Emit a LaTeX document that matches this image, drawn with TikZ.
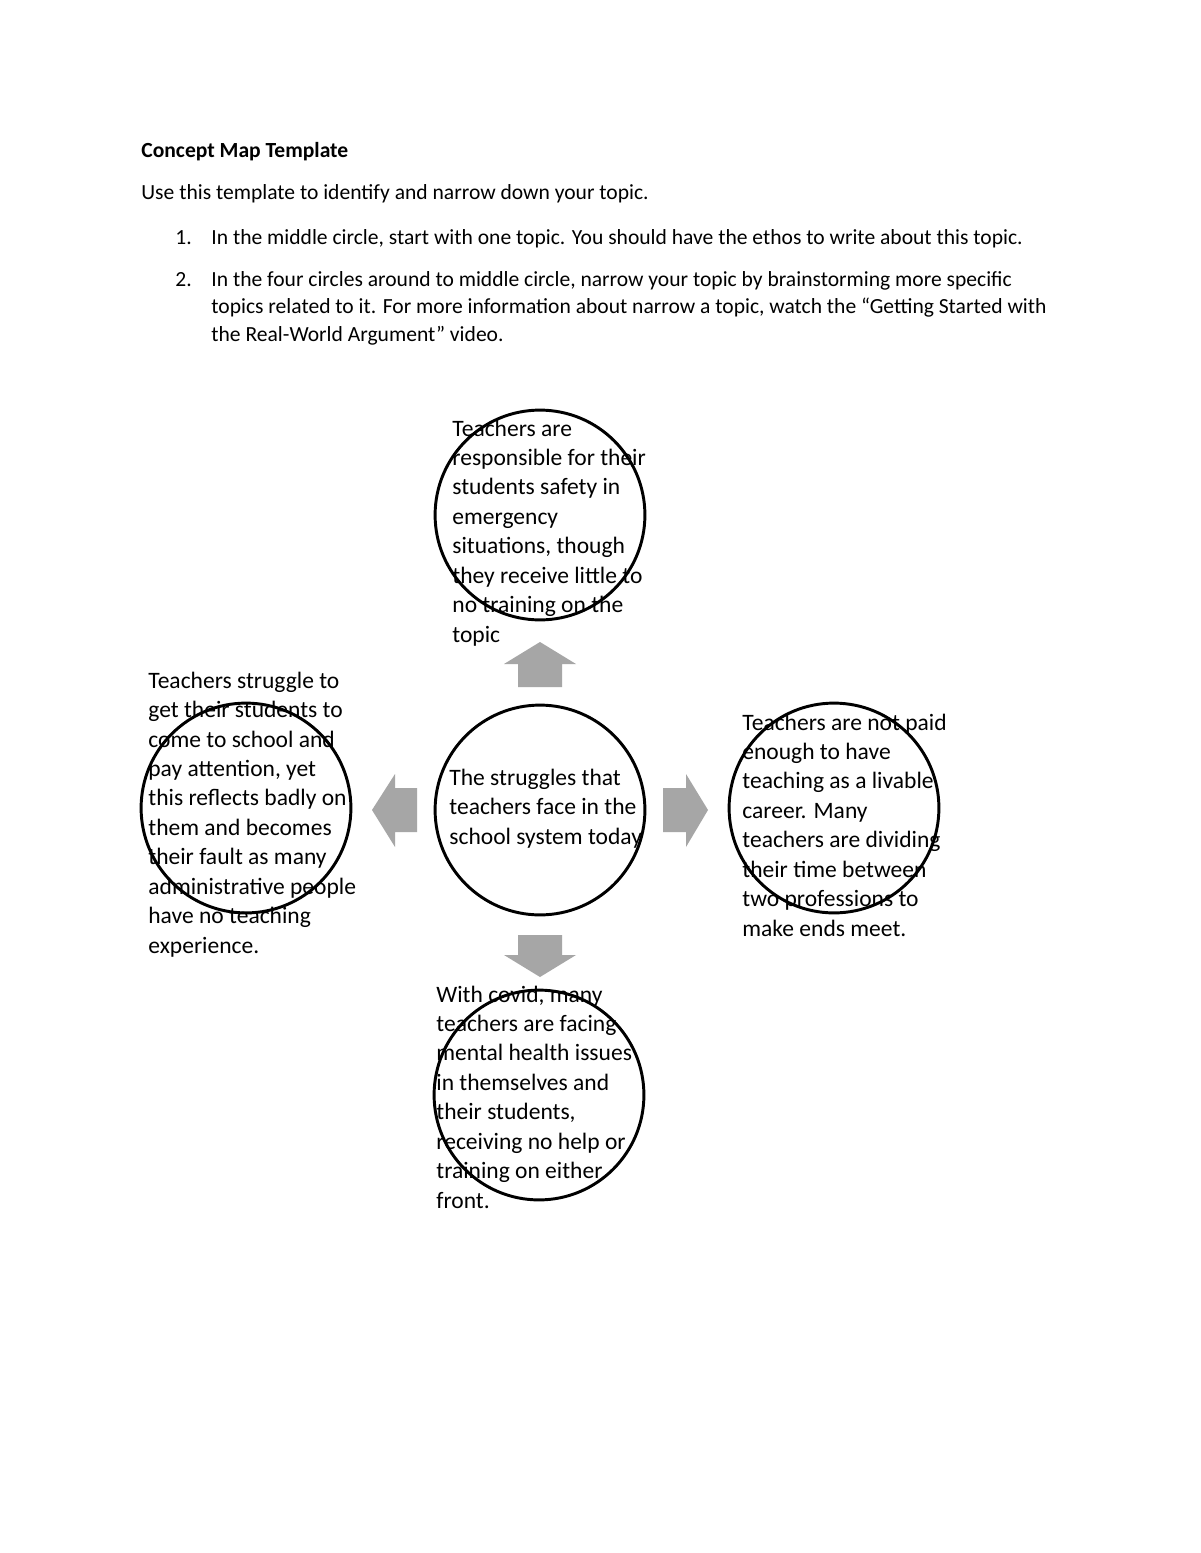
\documentclass[tikz,border=0pt]{standalone}
\usepackage{fontspec}
\setmainfont{Carlito}
\begin{document}
\begin{tikzpicture}[x=0.51pt,y=-0.51pt,
  bubble/.style={draw=black,line width=1.5pt,circle,minimum size=107pt,inner sep=0pt},
  blockarrow/.style={fill=black!35,draw=none},
  bodytext/.style={anchor=base west,inner sep=0pt,align=left,font=\fontsize{12}{15}\selectfont},
  headtext/.style={anchor=base west,inner sep=0pt,align=left,font=\fontsize{11}{13.8}\selectfont}]
\useasboundingbox[fill=white] (0,0) rectangle (1200,1553);

% header (multi-line nodes: base anchor = baseline of last line)
\node[headtext,font=\fontsize{11}{13.8}\selectfont\bfseries] (title) at (141,158) {Concept Map Template};
\node[headtext] (intro) at (141,200) {Use this template to identify and narrow down your topic.};
\node[headtext] (n1) at (175,245) {1.};
\node[headtext] (item1) at (211,245) {In the middle circle, start with one topic. You should have the ethos to write about this topic.};
\node[headtext] (n2) at (175,287) {2.};
\node[headtext] (item2) at (211,341) {In the four circles around to middle circle, narrow your topic by brainstorming more specific\\topics related to it. For more information about narrow a topic, watch the ``Getting Started with\\the Real-World Argument'' video.};

% circles
\node[bubble] (ctop) at (540,515) {};
\node[bubble] (cmid) at (540,810) {};
\node[bubble] (cleft) at (246,808) {};
\node[bubble] (cright) at (834,808) {};
\node[bubble] (cbot) at (539,1095) {};

% block arrows
\fill[blockarrow] (540,642) -- (576,664) -- (562,664) -- (562,687) -- (518,687) -- (518,664) -- (504,664) -- cycle;
\fill[blockarrow] (540,977) -- (576,955) -- (562,955) -- (562,935) -- (518,935) -- (518,955) -- (504,955) -- cycle;
\fill[blockarrow] (372,810) -- (395,774) -- (395,788) -- (417,788) -- (417,832) -- (395,832) -- (395,847) -- cycle;
\fill[blockarrow] (708,810) -- (686,774) -- (686,788) -- (663,788) -- (663,832) -- (686,832) -- (686,847) -- cycle;

% texts (positioned by last-line baseline)
\node[bodytext] (ttop) at (452,642) {Teachers are\\responsible for their\\students safety in\\emergency\\situations, though\\they receive little to\\no training on the\\topic};
\node[bodytext] (tmid) at (449,844) {The struggles that\\teachers face in the\\school system today};
\node[bodytext] (tleft) at (148,953) {Teachers struggle to\\get their students to\\come to school and\\pay attention, yet\\this reflects badly on\\them and becomes\\their fault as many\\administrative people\\have no teaching\\experience.};
\node[bodytext] (tright) at (742,936) {Teachers are not paid\\enough to have\\teaching as a livable\\career. Many\\teachers are dividing\\their time between\\two professions to\\make ends meet.};
\node[bodytext] (tbot) at (436,1208) {With covid, many\\teachers are facing\\mental health issues\\in themselves and\\their students,\\receiving no help or\\training on either\\front.};
\end{tikzpicture}
\end{document}
